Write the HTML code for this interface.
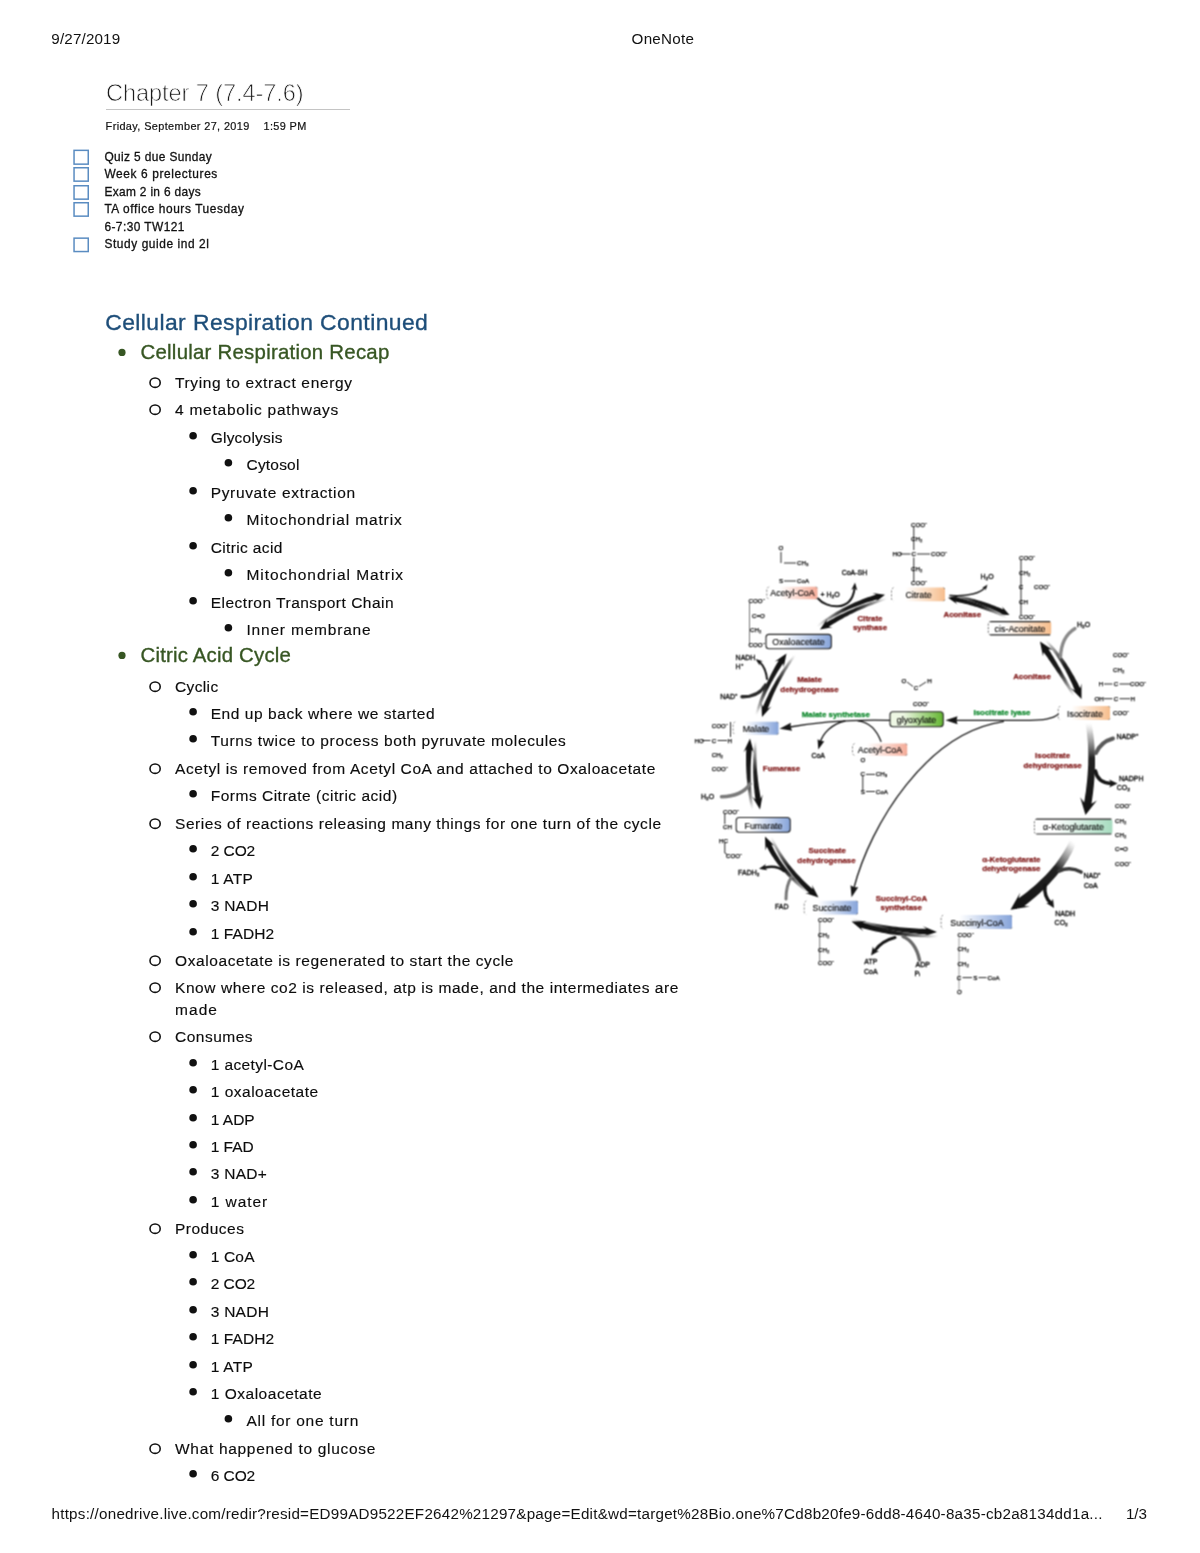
<!DOCTYPE html>
<html lang="en">
<head>
<meta charset="utf-8">
<title>OneNote</title>
<style>
html,body{margin:0;padding:0;background:#fff;}
body{width:1200px;height:1553px;position:relative;overflow:hidden;font-family:"Liberation Sans",sans-serif;color:#000;}
.t{position:absolute;white-space:nowrap;line-height:1;margin:0;opacity:0.999;}
.hd{font-size:15.2px;color:#111;}
.title{font-size:23.6px;left:106px;color:#1a1a1a;-webkit-text-stroke:0.75px #fff;}
.rule{position:absolute;left:106px;top:108.5px;width:244px;height:1px;background:#c4c4c4;}
.date{font-size:10.9px;left:105.6px;color:#111;-webkit-text-stroke:0.2px #111;}
.ck{font-size:11.9px;left:104.4px;color:#111;-webkit-text-stroke:0.3px #111;}
.h1{font-size:22.9px;left:105.2px;color:#1e4e79;-webkit-text-stroke:0.35px #1e4e79;}
.h2{font-size:20.4px;left:140.5px;color:#375623;-webkit-text-stroke:0.35px #375623;}
.b{font-size:15.5px;color:#0c0c0c;-webkit-text-stroke:0.15px #111;}
</style>
</head>
<body>
<div class="t hd" style="left:51.3px;top:31.1px;letter-spacing:0.16px;">9/27/2019</div>
<div class="t hd" style="left:631.6px;top:30.9px;letter-spacing:0.26px;">OneNote</div>
<div class="t title" style="top:81.5px;letter-spacing:-0.10px;">Chapter 7 (7.4-7.6)</div>
<div class="rule"></div>
<div class="t date" style="top:120.5px;letter-spacing:0.38px;">Friday, September 27, 2019</div><div class="t date" style="left:263.5px;top:120.5px;letter-spacing:0.38px;">1:59 PM</div>
<div class="t ck" style="top:151.6px;letter-spacing:0.38px;">Quiz 5 due Sunday</div>
<div class="t ck" style="top:168.6px;letter-spacing:0.63px;">Week 6 prelectures</div>
<div class="t ck" style="top:186.8px;letter-spacing:0.34px;">Exam 2 in 6 days</div>
<div class="t ck" style="top:203.8px;letter-spacing:0.59px;">TA office hours Tuesday</div>
<div class="t ck" style="top:221.8px;letter-spacing:0.45px;">6-7:30 TW121</div>
<div class="t ck" style="top:238.8px;letter-spacing:0.59px;">Study guide ind 2l</div>
<svg style="position:absolute;left:70px;top:145px" width="30" height="115" viewBox="0 0 30 115" fill="#fff" stroke="#5a8cc1" stroke-width="1.5"><rect x="4.05" y="5.35" width="14.2" height="13.8"/><rect x="4.05" y="22.75" width="14.2" height="13.4"/><rect x="4.05" y="40.75" width="14.2" height="13.4"/><rect x="4.05" y="57.75" width="14.2" height="13.4"/><rect x="4.05" y="93.15" width="14.2" height="13.4"/></svg>
<div class="t h1" style="top:311.1px;letter-spacing:0.42px;">Cellular Respiration Continued</div>
<div class="t h2" style="top:342.2px;letter-spacing:0.25px;">Cellular Respiration Recap</div>
<div class="t b" style="left:175.0px;top:374.9px;letter-spacing:0.64px;">Trying to extract energy</div>
<div class="t b" style="left:175.0px;top:401.9px;letter-spacing:0.75px;">4 metabolic pathways</div>
<div class="t b" style="left:210.7px;top:429.9px;letter-spacing:0.22px;">Glycolysis</div>
<div class="t b" style="left:246.5px;top:456.9px;letter-spacing:0.19px;">Cytosol</div>
<div class="t b" style="left:210.7px;top:484.9px;letter-spacing:0.65px;">Pyruvate extraction</div>
<div class="t b" style="left:246.5px;top:511.9px;letter-spacing:0.87px;">Mitochondrial matrix</div>
<div class="t b" style="left:210.7px;top:539.9px;letter-spacing:0.36px;">Citric acid</div>
<div class="t b" style="left:246.5px;top:566.9px;letter-spacing:0.94px;">Mitochondrial Matrix</div>
<div class="t b" style="left:210.7px;top:594.9px;letter-spacing:0.50px;">Electron Transport Chain</div>
<div class="t b" style="left:246.5px;top:621.9px;letter-spacing:0.80px;">Inner membrane</div>
<div class="t h2" style="top:645.2px;letter-spacing:0.19px;">Citric Acid Cycle</div>
<div class="t b" style="left:175.0px;top:678.9px;letter-spacing:0.36px;">Cyclic</div>
<div class="t b" style="left:210.7px;top:705.9px;letter-spacing:0.57px;">End up back where we started</div>
<div class="t b" style="left:210.7px;top:732.9px;letter-spacing:0.63px;">Turns twice to process both pyruvate molecules</div>
<div class="t b" style="left:175.0px;top:760.9px;letter-spacing:0.60px;">Acetyl is removed from Acetyl CoA and attached to Oxaloacetate</div>
<div class="t b" style="left:210.7px;top:787.9px;letter-spacing:0.51px;">Forms Citrate (citric acid)</div>
<div class="t b" style="left:175.0px;top:815.9px;letter-spacing:0.55px;">Series of reactions releasing many things for one turn of the cycle</div>
<div class="t b" style="left:210.7px;top:842.9px;letter-spacing:-0.06px;">2 CO2</div>
<div class="t b" style="left:210.7px;top:870.9px;letter-spacing:0.28px;">1 ATP</div>
<div class="t b" style="left:210.7px;top:897.9px;letter-spacing:0.27px;">3 NADH</div>
<div class="t b" style="left:210.7px;top:925.9px;letter-spacing:0.09px;">1 FADH2</div>
<div class="t b" style="left:175.0px;top:952.9px;letter-spacing:0.59px;">Oxaloacetate is regenerated to start the cycle</div>
<div class="t b" style="left:175.0px;top:979.9px;letter-spacing:0.56px;">Know where co2 is released, atp is made, and the intermediates are</div>
<div class="t b" style="left:175.0px;top:1001.9px;letter-spacing:1.05px;">made</div>
<div class="t b" style="left:175.0px;top:1028.9px;letter-spacing:0.49px;">Consumes</div>
<div class="t b" style="left:210.7px;top:1056.9px;letter-spacing:0.40px;">1 acetyl-CoA</div>
<div class="t b" style="left:210.7px;top:1083.9px;letter-spacing:0.51px;">1 oxaloacetate</div>
<div class="t b" style="left:210.7px;top:1111.9px;letter-spacing:0.01px;">1 ADP</div>
<div class="t b" style="left:210.7px;top:1138.9px;letter-spacing:-0.02px;">1 FAD</div>
<div class="t b" style="left:210.7px;top:1165.9px;letter-spacing:0.30px;">3 NAD+</div>
<div class="t b" style="left:210.7px;top:1193.9px;letter-spacing:0.95px;">1 water</div>
<div class="t b" style="left:175.0px;top:1220.9px;letter-spacing:0.50px;">Produces</div>
<div class="t b" style="left:210.7px;top:1248.9px;letter-spacing:0.18px;">1 CoA</div>
<div class="t b" style="left:210.7px;top:1275.9px;letter-spacing:-0.06px;">2 CO2</div>
<div class="t b" style="left:210.7px;top:1303.9px;letter-spacing:0.27px;">3 NADH</div>
<div class="t b" style="left:210.7px;top:1330.9px;letter-spacing:0.09px;">1 FADH2</div>
<div class="t b" style="left:210.7px;top:1358.9px;letter-spacing:0.28px;">1 ATP</div>
<div class="t b" style="left:210.7px;top:1385.9px;letter-spacing:0.52px;">1 Oxaloacetate</div>
<div class="t b" style="left:246.5px;top:1412.9px;letter-spacing:0.73px;">All for one turn</div>
<div class="t b" style="left:175.0px;top:1440.9px;letter-spacing:0.69px;">What happened to glucose</div>
<div class="t b" style="left:210.7px;top:1467.9px;letter-spacing:-0.06px;">6 CO2</div>
<svg style="position:absolute;left:0;top:0" width="300" height="1500" viewBox="0 0 300 1500"><circle cx="122" cy="352.4" r="3.6" fill="#375623"/><ellipse cx="155.1" cy="382.7" rx="5.1" ry="4.7" fill="none" stroke="#111" stroke-width="1.6"/><ellipse cx="155.1" cy="409.7" rx="5.1" ry="4.7" fill="none" stroke="#111" stroke-width="1.6"/><circle cx="193.1" cy="435.8" r="3.8" fill="#111"/><circle cx="228.4" cy="462.8" r="3.8" fill="#111"/><circle cx="193.1" cy="490.8" r="3.8" fill="#111"/><circle cx="228.4" cy="517.8" r="3.8" fill="#111"/><circle cx="193.1" cy="545.8" r="3.8" fill="#111"/><circle cx="228.4" cy="572.8" r="3.8" fill="#111"/><circle cx="193.1" cy="600.8" r="3.8" fill="#111"/><circle cx="228.4" cy="627.8" r="3.8" fill="#111"/><circle cx="122" cy="655.4" r="3.6" fill="#375623"/><ellipse cx="155.1" cy="686.7" rx="5.1" ry="4.7" fill="none" stroke="#111" stroke-width="1.6"/><circle cx="193.1" cy="711.8" r="3.8" fill="#111"/><circle cx="193.1" cy="738.8" r="3.8" fill="#111"/><ellipse cx="155.1" cy="768.7" rx="5.1" ry="4.7" fill="none" stroke="#111" stroke-width="1.6"/><circle cx="193.1" cy="793.8" r="3.8" fill="#111"/><ellipse cx="155.1" cy="823.7" rx="5.1" ry="4.7" fill="none" stroke="#111" stroke-width="1.6"/><circle cx="193.1" cy="848.8" r="3.8" fill="#111"/><circle cx="193.1" cy="876.8" r="3.8" fill="#111"/><circle cx="193.1" cy="903.8" r="3.8" fill="#111"/><circle cx="193.1" cy="931.8" r="3.8" fill="#111"/><ellipse cx="155.1" cy="960.7" rx="5.1" ry="4.7" fill="none" stroke="#111" stroke-width="1.6"/><ellipse cx="155.1" cy="987.7" rx="5.1" ry="4.7" fill="none" stroke="#111" stroke-width="1.6"/><ellipse cx="155.1" cy="1036.7" rx="5.1" ry="4.7" fill="none" stroke="#111" stroke-width="1.6"/><circle cx="193.1" cy="1062.8" r="3.8" fill="#111"/><circle cx="193.1" cy="1089.8" r="3.8" fill="#111"/><circle cx="193.1" cy="1117.8" r="3.8" fill="#111"/><circle cx="193.1" cy="1144.8" r="3.8" fill="#111"/><circle cx="193.1" cy="1171.8" r="3.8" fill="#111"/><circle cx="193.1" cy="1199.8" r="3.8" fill="#111"/><ellipse cx="155.1" cy="1228.7" rx="5.1" ry="4.7" fill="none" stroke="#111" stroke-width="1.6"/><circle cx="193.1" cy="1254.8" r="3.8" fill="#111"/><circle cx="193.1" cy="1281.8" r="3.8" fill="#111"/><circle cx="193.1" cy="1309.8" r="3.8" fill="#111"/><circle cx="193.1" cy="1336.8" r="3.8" fill="#111"/><circle cx="193.1" cy="1364.8" r="3.8" fill="#111"/><circle cx="193.1" cy="1391.8" r="3.8" fill="#111"/><circle cx="228.4" cy="1418.8" r="3.8" fill="#111"/><ellipse cx="155.1" cy="1448.7" rx="5.1" ry="4.7" fill="none" stroke="#111" stroke-width="1.6"/><circle cx="193.1" cy="1473.8" r="3.8" fill="#111"/></svg>
<svg style="position:absolute;left:686px;top:505px" width="474" height="510" viewBox="686 505 474 510">
<defs>
<filter id="bl" filterUnits="userSpaceOnUse" x="686" y="505" width="474" height="510" color-interpolation-filters="sRGB"><feConvolveMatrix order="3" kernelMatrix="1 2 1 2 4 2 1 2 1" divisor="16" edgeMode="duplicate" preserveAlpha="false"/></filter>
<linearGradient id="g1" gradientUnits="userSpaceOnUse" x1="817.0" y1="626.5" x2="885.0" y2="594.8"><stop offset="0" stop-color="#cccccc" stop-opacity="0.0"/><stop offset="0.12" stop-color="#aaaaaa" stop-opacity="0.9"/><stop offset="0.3" stop-color="#5a5a5a" stop-opacity="1"/><stop offset="0.45" stop-color="#1c1c1c" stop-opacity="1"/><stop offset="1" stop-color="#0d0d0d" stop-opacity="1"/></linearGradient>
<linearGradient id="g2" gradientUnits="userSpaceOnUse" x1="887.0" y1="598.6" x2="820.0" y2="629.5"><stop offset="0" stop-color="#cccccc" stop-opacity="0.0"/><stop offset="0.12" stop-color="#aaaaaa" stop-opacity="0.9"/><stop offset="0.3" stop-color="#5a5a5a" stop-opacity="1"/><stop offset="0.45" stop-color="#1c1c1c" stop-opacity="1"/><stop offset="1" stop-color="#0d0d0d" stop-opacity="1"/></linearGradient>
<linearGradient id="g3" gradientUnits="userSpaceOnUse" x1="948.0" y1="594.8" x2="1009.5" y2="615.0"><stop offset="0" stop-color="#cccccc" stop-opacity="0.0"/><stop offset="0.12" stop-color="#aaaaaa" stop-opacity="0.9"/><stop offset="0.3" stop-color="#5a5a5a" stop-opacity="1"/><stop offset="0.45" stop-color="#1c1c1c" stop-opacity="1"/><stop offset="1" stop-color="#0d0d0d" stop-opacity="1"/></linearGradient>
<linearGradient id="g4" gradientUnits="userSpaceOnUse" x1="1007.0" y1="617.5" x2="948.0" y2="597.8"><stop offset="0" stop-color="#cccccc" stop-opacity="0.0"/><stop offset="0.12" stop-color="#aaaaaa" stop-opacity="0.9"/><stop offset="0.3" stop-color="#5a5a5a" stop-opacity="1"/><stop offset="0.45" stop-color="#1c1c1c" stop-opacity="1"/><stop offset="1" stop-color="#0d0d0d" stop-opacity="1"/></linearGradient>
<linearGradient id="g5" gradientUnits="userSpaceOnUse" x1="1074.0" y1="696.0" x2="1040.0" y2="641.5"><stop offset="0" stop-color="#cccccc" stop-opacity="0.0"/><stop offset="0.12" stop-color="#aaaaaa" stop-opacity="0.9"/><stop offset="0.3" stop-color="#5a5a5a" stop-opacity="1"/><stop offset="0.45" stop-color="#1c1c1c" stop-opacity="1"/><stop offset="1" stop-color="#0d0d0d" stop-opacity="1"/></linearGradient>
<linearGradient id="g6" gradientUnits="userSpaceOnUse" x1="1045.5" y1="640.0" x2="1081.5" y2="699.0"><stop offset="0" stop-color="#cccccc" stop-opacity="0.0"/><stop offset="0.12" stop-color="#aaaaaa" stop-opacity="0.9"/><stop offset="0.3" stop-color="#5a5a5a" stop-opacity="1"/><stop offset="0.45" stop-color="#1c1c1c" stop-opacity="1"/><stop offset="1" stop-color="#0d0d0d" stop-opacity="1"/></linearGradient>
<linearGradient id="g7" gradientUnits="userSpaceOnUse" x1="1088.5" y1="723.0" x2="1085.5" y2="815.0"><stop offset="0" stop-color="#cccccc" stop-opacity="0"/><stop offset="0.12" stop-color="#aaaaaa" stop-opacity="0.7"/><stop offset="0.38" stop-color="#222222" stop-opacity="1"/><stop offset="1" stop-color="#111111" stop-opacity="1"/></linearGradient>
<linearGradient id="g8" gradientUnits="userSpaceOnUse" x1="1073.0" y1="841.5" x2="1010.5" y2="909.8"><stop offset="0" stop-color="#cccccc" stop-opacity="0"/><stop offset="0.1" stop-color="#aaaaaa" stop-opacity="0.7"/><stop offset="0.33" stop-color="#222222" stop-opacity="1"/><stop offset="1" stop-color="#111111" stop-opacity="1"/></linearGradient>
<linearGradient id="g9" gradientUnits="userSpaceOnUse" x1="851.0" y1="919.0" x2="937.0" y2="932.0"><stop offset="0" stop-color="#cccccc" stop-opacity="0.0"/><stop offset="0.12" stop-color="#aaaaaa" stop-opacity="0.9"/><stop offset="0.3" stop-color="#5a5a5a" stop-opacity="1"/><stop offset="0.45" stop-color="#1c1c1c" stop-opacity="1"/><stop offset="1" stop-color="#0d0d0d" stop-opacity="1"/></linearGradient>
<linearGradient id="g10" gradientUnits="userSpaceOnUse" x1="938.5" y1="936.3" x2="851.5" y2="921.5"><stop offset="0" stop-color="#cccccc" stop-opacity="0.0"/><stop offset="0.12" stop-color="#aaaaaa" stop-opacity="0.9"/><stop offset="0.3" stop-color="#5a5a5a" stop-opacity="1"/><stop offset="0.45" stop-color="#1c1c1c" stop-opacity="1"/><stop offset="1" stop-color="#0d0d0d" stop-opacity="1"/></linearGradient>
<linearGradient id="g11" gradientUnits="userSpaceOnUse" x1="809.0" y1="893.0" x2="765.0" y2="836.5"><stop offset="0" stop-color="#cccccc" stop-opacity="0.0"/><stop offset="0.12" stop-color="#aaaaaa" stop-opacity="0.9"/><stop offset="0.3" stop-color="#5a5a5a" stop-opacity="1"/><stop offset="0.45" stop-color="#1c1c1c" stop-opacity="1"/><stop offset="1" stop-color="#0d0d0d" stop-opacity="1"/></linearGradient>
<linearGradient id="g12" gradientUnits="userSpaceOnUse" x1="771.0" y1="837.0" x2="818.5" y2="897.5"><stop offset="0" stop-color="#cccccc" stop-opacity="0.0"/><stop offset="0.12" stop-color="#aaaaaa" stop-opacity="0.9"/><stop offset="0.3" stop-color="#5a5a5a" stop-opacity="1"/><stop offset="0.45" stop-color="#1c1c1c" stop-opacity="1"/><stop offset="1" stop-color="#0d0d0d" stop-opacity="1"/></linearGradient>
<linearGradient id="g13" gradientUnits="userSpaceOnUse" x1="752.5" y1="810.0" x2="750.0" y2="738.5"><stop offset="0" stop-color="#cccccc" stop-opacity="0.0"/><stop offset="0.12" stop-color="#aaaaaa" stop-opacity="0.9"/><stop offset="0.3" stop-color="#5a5a5a" stop-opacity="1"/><stop offset="0.45" stop-color="#1c1c1c" stop-opacity="1"/><stop offset="1" stop-color="#0d0d0d" stop-opacity="1"/></linearGradient>
<linearGradient id="g14" gradientUnits="userSpaceOnUse" x1="755.5" y1="740.5" x2="760.0" y2="809.5"><stop offset="0" stop-color="#cccccc" stop-opacity="0.0"/><stop offset="0.12" stop-color="#aaaaaa" stop-opacity="0.9"/><stop offset="0.3" stop-color="#5a5a5a" stop-opacity="1"/><stop offset="0.45" stop-color="#1c1c1c" stop-opacity="1"/><stop offset="1" stop-color="#0d0d0d" stop-opacity="1"/></linearGradient>
<linearGradient id="g15" gradientUnits="userSpaceOnUse" x1="756.0" y1="715.5" x2="786.5" y2="653.5"><stop offset="0" stop-color="#cccccc" stop-opacity="0.0"/><stop offset="0.12" stop-color="#aaaaaa" stop-opacity="0.9"/><stop offset="0.3" stop-color="#5a5a5a" stop-opacity="1"/><stop offset="0.45" stop-color="#1c1c1c" stop-opacity="1"/><stop offset="1" stop-color="#0d0d0d" stop-opacity="1"/></linearGradient>
<linearGradient id="g16" gradientUnits="userSpaceOnUse" x1="795.0" y1="655.0" x2="762.0" y2="717.0"><stop offset="0" stop-color="#cccccc" stop-opacity="0.0"/><stop offset="0.12" stop-color="#aaaaaa" stop-opacity="0.9"/><stop offset="0.3" stop-color="#5a5a5a" stop-opacity="1"/><stop offset="0.45" stop-color="#1c1c1c" stop-opacity="1"/><stop offset="1" stop-color="#0d0d0d" stop-opacity="1"/></linearGradient>
<linearGradient id="b17" x1="0" x2="1" y1="0" y2="0"><stop offset="0" stop-color="#ffffff"/><stop offset="0.25" stop-color="#ffffff"/><stop offset="1" stop-color="#f4ab98"/></linearGradient>
<linearGradient id="b18" x1="0" x2="1" y1="0" y2="0"><stop offset="0" stop-color="#ffffff"/><stop offset="0.25" stop-color="#ffffff"/><stop offset="1" stop-color="#86a4da"/></linearGradient>
<linearGradient id="b19" x1="0" x2="1" y1="0" y2="0"><stop offset="0" stop-color="#ffffff"/><stop offset="0.25" stop-color="#ffffff"/><stop offset="1" stop-color="#f6bd8c"/></linearGradient>
<linearGradient id="b20" x1="0" x2="1" y1="0" y2="0"><stop offset="0" stop-color="#ffffff"/><stop offset="0.25" stop-color="#ffffff"/><stop offset="1" stop-color="#f6bd8c"/></linearGradient>
<linearGradient id="b21" x1="0" x2="1" y1="0" y2="0"><stop offset="0" stop-color="#ffffff"/><stop offset="0.25" stop-color="#ffffff"/><stop offset="1" stop-color="#f6bd8c"/></linearGradient>
<linearGradient id="b22" x1="0" x2="1" y1="0" y2="0"><stop offset="0" stop-color="#ffffff"/><stop offset="0.25" stop-color="#ffffff"/><stop offset="1" stop-color="#a6dbbf"/></linearGradient>
<linearGradient id="b23" x1="0" x2="1" y1="0" y2="0"><stop offset="0" stop-color="#ffffff"/><stop offset="0.25" stop-color="#ffffff"/><stop offset="1" stop-color="#86a4da"/></linearGradient>
<linearGradient id="b24" x1="0" x2="1" y1="0" y2="0"><stop offset="0" stop-color="#ffffff"/><stop offset="0.25" stop-color="#ffffff"/><stop offset="1" stop-color="#86a4da"/></linearGradient>
<linearGradient id="b25" x1="0" x2="1" y1="0" y2="0"><stop offset="0" stop-color="#ffffff"/><stop offset="0.25" stop-color="#ffffff"/><stop offset="1" stop-color="#86a4da"/></linearGradient>
<linearGradient id="b26" x1="0" x2="1" y1="0" y2="0"><stop offset="0" stop-color="#ffffff"/><stop offset="0.25" stop-color="#ffffff"/><stop offset="1" stop-color="#86a4da"/></linearGradient>
<linearGradient id="b27" x1="0" x2="1" y1="0" y2="0"><stop offset="0" stop-color="#eef7e4"/><stop offset="0.25" stop-color="#eef7e4"/><stop offset="1" stop-color="#62b530"/></linearGradient>
<linearGradient id="b28" x1="0" x2="1" y1="0" y2="0"><stop offset="0" stop-color="#ffffff"/><stop offset="0.25" stop-color="#ffffff"/><stop offset="1" stop-color="#f4ab98"/></linearGradient>
</defs>
<style>
text{font-family:"Liberation Sans",sans-serif;}
.cp{font-size:8.9px;fill:#000;stroke:#000;stroke-width:.12px;}
.en{font-size:7.9px;font-weight:bold;fill:#7c1212;stroke:#7c1212;stroke-width:.25px;}
.eg{font-size:7.9px;font-weight:bold;fill:#078426;stroke:#078426;stroke-width:.25px;}
.cf{font-size:7px;fill:#000;stroke:#000;stroke-width:.3px;}
.st{font-size:6.2px;fill:#000;stroke:#000;stroke-width:.25px;}
</style>
<g filter="url(#bl)">
<polygon fill="url(#g1)" points="817.7,627.4 819.9,625.8 822.2,624.2 824.5,622.7 826.8,621.2 829.1,619.8 831.5,618.4 833.9,617.0 836.3,615.7 838.7,614.4 841.1,613.1 843.6,611.9 846.1,610.7 848.6,609.6 851.1,608.5 853.6,607.4 856.2,606.4 858.8,605.4 861.4,604.4 864.0,603.5 866.7,602.6 869.3,601.7 872.0,600.9 874.7,600.1 877.4,599.4 875.0,602.6 885.0,594.8 872.4,593.0 876.0,594.6 873.3,595.5 870.6,596.4 867.8,597.3 865.1,598.3 862.5,599.3 859.8,600.4 857.2,601.5 854.6,602.6 852.1,603.8 849.5,605.0 847.0,606.2 844.5,607.5 842.0,608.8 839.6,610.2 837.1,611.5 834.7,613.0 832.3,614.4 830.0,615.9 827.7,617.4 825.3,619.0 823.1,620.6 820.8,622.2 818.6,623.9 816.3,625.6"/>
<polygon fill="url(#g2)" points="886.7,597.5 884.0,598.2 881.4,598.9 878.8,599.7 876.1,600.5 873.5,601.3 870.9,602.1 868.3,603.0 865.8,603.9 863.2,604.8 860.6,605.8 858.1,606.8 855.6,607.8 853.1,608.9 850.5,610.0 848.1,611.1 845.6,612.2 843.1,613.4 840.7,614.6 838.2,615.8 835.8,617.1 833.4,618.4 831.0,619.7 828.6,621.1 826.2,622.5 827.1,618.9 820.0,629.5 832.5,627.3 828.8,626.7 831.1,625.3 833.4,623.8 835.7,622.4 838.0,621.1 840.3,619.7 842.7,618.4 845.0,617.1 847.4,615.9 849.8,614.6 852.2,613.4 854.6,612.3 857.0,611.1 859.5,610.0 861.9,608.9 864.4,607.9 866.9,606.8 869.4,605.8 871.9,604.9 874.4,603.9 877.0,603.0 879.5,602.1 882.1,601.3 884.7,600.5 887.3,599.7"/>
<path d="M818 598.5 C826 608,851 613,854.5 589" fill="none" stroke="#151515" stroke-width="2.0" stroke-linecap="round" opacity="1"/>
<polygon fill="#151515" points="855.0,582.5 857.3,590.5 854.5,588.0 851.3,590.0"/>
<polygon fill="url(#g3)" points="947.8,595.9 950.1,596.3 952.5,596.8 954.8,597.3 957.1,597.8 959.4,598.3 961.6,598.9 963.9,599.5 966.2,600.1 968.5,600.8 970.7,601.4 973.0,602.1 975.2,602.9 977.4,603.6 979.6,604.4 981.9,605.2 984.1,606.0 986.3,606.9 988.5,607.7 990.6,608.6 992.8,609.6 995.0,610.5 997.2,611.5 999.3,612.5 1001.5,613.5 998.2,614.4 1009.5,615.0 1002.1,606.5 1003.3,609.5 1001.1,608.6 998.8,607.6 996.6,606.7 994.4,605.8 992.1,605.0 989.8,604.1 987.6,603.3 985.3,602.5 983.0,601.8 980.7,601.1 978.5,600.4 976.2,599.7 973.9,599.1 971.6,598.4 969.2,597.8 966.9,597.3 964.6,596.7 962.3,596.2 959.9,595.7 957.6,595.3 955.2,594.8 952.9,594.4 950.5,594.1 948.2,593.7"/>
<polygon fill="url(#g4)" points="1007.5,616.5 1005.4,615.5 1003.3,614.4 1001.2,613.4 999.1,612.4 997.0,611.5 994.9,610.5 992.8,609.6 990.6,608.7 988.5,607.8 986.4,607.0 984.3,606.1 982.1,605.3 980.0,604.5 977.9,603.8 975.7,603.0 973.6,602.3 971.4,601.6 969.3,600.9 967.1,600.3 964.9,599.6 962.8,599.0 960.6,598.4 958.4,597.8 956.3,597.3 959.1,595.6 948.0,597.8 957.3,604.2 955.3,601.6 957.4,602.0 959.6,602.5 961.8,603.0 963.9,603.5 966.0,604.1 968.2,604.6 970.3,605.2 972.5,605.8 974.6,606.4 976.8,607.1 978.9,607.8 981.0,608.4 983.2,609.2 985.3,609.9 987.4,610.7 989.6,611.4 991.7,612.2 993.8,613.1 995.9,613.9 998.1,614.8 1000.2,615.7 1002.3,616.6 1004.4,617.5 1006.5,618.5"/>
<path d="M950 595.5 C968 597,981 593,985.5 587" fill="none" stroke="#222" stroke-width="1.5" stroke-linecap="round" opacity="1"/>
<polygon fill="#151515" points="987.5,584.5 985.7,590.6 985.0,587.9 982.1,587.9"/>
<polygon fill="url(#g5)" points="1075.0,695.5 1073.9,693.5 1072.9,691.5 1071.8,689.5 1070.7,687.6 1069.7,685.6 1068.6,683.7 1067.5,681.7 1066.5,679.7 1065.4,677.8 1064.3,675.9 1063.2,673.9 1062.1,672.0 1061.0,670.0 1059.9,668.1 1058.7,666.2 1057.6,664.2 1056.5,662.3 1055.4,660.4 1054.2,658.5 1053.1,656.6 1051.9,654.7 1050.8,652.8 1049.6,650.9 1048.5,649.0 1052.8,650.1 1040.0,641.5 1043.0,656.6 1043.6,652.2 1044.9,654.0 1046.2,655.8 1047.5,657.6 1048.7,659.4 1050.0,661.2 1051.2,663.0 1052.5,664.9 1053.7,666.7 1055.0,668.5 1056.2,670.4 1057.4,672.2 1058.7,674.1 1059.9,675.9 1061.1,677.8 1062.3,679.6 1063.5,681.5 1064.7,683.4 1065.9,685.2 1067.1,687.1 1068.3,689.0 1069.5,690.9 1070.7,692.8 1071.9,694.7 1073.0,696.5"/>
<polygon fill="url(#g6)" points="1044.7,640.8 1046.2,642.5 1047.7,644.3 1049.2,646.1 1050.7,648.0 1052.1,649.9 1053.5,651.8 1054.9,653.7 1056.3,655.7 1057.6,657.7 1058.9,659.7 1060.2,661.7 1061.5,663.8 1062.8,665.9 1064.0,668.0 1065.2,670.1 1066.3,672.3 1067.5,674.5 1068.6,676.7 1069.7,678.9 1070.8,681.2 1071.9,683.5 1072.9,685.8 1073.9,688.2 1074.9,690.6 1070.6,688.1 1081.5,699.0 1081.5,683.6 1080.2,688.2 1079.0,685.9 1077.9,683.5 1076.7,681.2 1075.4,678.9 1074.2,676.6 1072.9,674.4 1071.6,672.2 1070.3,670.0 1069.0,667.8 1067.6,665.7 1066.3,663.6 1064.9,661.6 1063.4,659.6 1062.0,657.6 1060.5,655.6 1059.0,653.7 1057.5,651.8 1056.0,649.9 1054.4,648.0 1052.8,646.2 1051.2,644.4 1049.6,642.7 1048.0,640.9 1046.3,639.2"/>
<path d="M1075 628.5 C1066 634,1061 644,1060.5 657" fill="none" stroke="#8a8a8a" stroke-width="3.3" stroke-linecap="round" opacity="1"/>
<polygon fill="url(#g7)" points="1085.5,723.5 1086.0,726.6 1086.5,729.6 1086.9,732.7 1087.2,735.8 1087.5,739.0 1087.8,742.1 1088.0,745.3 1088.1,748.5 1088.2,751.7 1088.3,754.9 1088.3,758.2 1088.2,761.5 1088.2,764.8 1088.0,768.1 1087.8,771.4 1087.6,774.8 1087.3,778.2 1087.0,781.6 1086.6,785.0 1086.2,788.5 1085.8,791.9 1085.2,795.4 1084.7,799.0 1084.1,802.5 1080.2,797.2 1085.5,815.0 1096.9,800.4 1091.5,803.7 1092.0,800.1 1092.5,796.5 1093.0,792.9 1093.4,789.3 1093.8,785.8 1094.1,782.3 1094.4,778.7 1094.6,775.3 1094.8,771.8 1094.9,768.4 1095.0,764.9 1095.0,761.5 1095.0,758.2 1094.9,754.8 1094.8,751.5 1094.6,748.2 1094.4,744.9 1094.1,741.6 1093.8,738.4 1093.4,735.1 1093.0,731.9 1092.5,728.8 1092.0,725.6 1091.5,722.5"/>
<path d="M1113 738.5 C1104 741,1099 746,1096 753" fill="none" stroke="#5a5a5a" stroke-width="3.9" stroke-linecap="round" opacity="1"/>
<path d="M1095.5 771 C1097 780,1104 783,1111 783.5" fill="none" stroke="#151515" stroke-width="3.5" stroke-linecap="round" opacity="1"/>
<polygon fill="#151515" points="1117.5,783.5 1109.1,787.5 1111.5,783.5 1109.1,779.5"/>
<polygon fill="url(#g8)" points="1069.8,840.2 1068.6,842.7 1067.4,845.3 1066.1,847.8 1064.7,850.3 1063.2,852.8 1061.6,855.3 1059.9,857.8 1058.2,860.3 1056.4,862.7 1054.5,865.2 1052.5,867.6 1050.4,870.0 1048.2,872.5 1045.9,874.9 1043.6,877.2 1041.2,879.6 1038.6,882.0 1036.0,884.4 1033.4,886.7 1030.6,889.0 1027.7,891.4 1024.8,893.7 1021.7,896.0 1018.6,898.3 1020.1,892.7 1010.5,909.8 1029.9,906.6 1024.3,905.9 1027.4,903.4 1030.5,901.0 1033.5,898.5 1036.5,896.0 1039.3,893.4 1042.0,890.9 1044.7,888.4 1047.3,885.8 1049.7,883.2 1052.1,880.6 1054.4,878.0 1056.6,875.4 1058.8,872.7 1060.8,870.1 1062.8,867.4 1064.6,864.8 1066.4,862.1 1068.1,859.4 1069.6,856.6 1071.1,853.9 1072.6,851.2 1073.9,848.4 1075.1,845.6 1076.2,842.8"/>
<path d="M1081 872 C1074 868,1066 868,1059 871" fill="none" stroke="#3a3a3a" stroke-width="3.7" stroke-linecap="round" opacity="1"/>
<path d="M1045 885 C1044 895,1047 900,1051 903" fill="none" stroke="#151515" stroke-width="3.5" stroke-linecap="round" opacity="1"/>
<polygon fill="#151515" points="1054.0,908.0 1046.2,902.9 1050.9,902.9 1053.0,898.7"/>
<polygon fill="url(#g9)" points="850.7,920.0 853.4,921.0 856.2,921.9 859.0,922.8 861.9,923.6 864.8,924.5 867.7,925.3 870.7,926.0 873.7,926.8 876.7,927.5 879.8,928.1 882.9,928.8 886.0,929.4 889.2,930.0 892.4,930.5 895.6,931.1 898.9,931.6 902.2,932.0 905.5,932.4 908.9,932.8 912.3,933.2 915.7,933.6 919.2,933.9 922.7,934.1 926.2,934.4 922.6,936.8 937.0,932.0 922.9,926.2 926.5,928.9 923.0,928.8 919.5,928.7 916.1,928.5 912.7,928.3 909.3,928.1 906.0,927.8 902.7,927.5 899.4,927.2 896.2,926.8 892.9,926.5 889.8,926.0 886.6,925.6 883.5,925.1 880.4,924.6 877.4,924.1 874.4,923.5 871.4,922.9 868.4,922.3 865.5,921.7 862.6,921.0 859.7,920.3 856.9,919.5 854.1,918.8 851.3,918.0"/>
<polygon fill="url(#g10)" points="938.5,935.2 935.0,935.1 931.6,934.9 928.1,934.8 924.7,934.5 921.3,934.3 918.0,934.0 914.7,933.7 911.4,933.3 908.1,932.9 904.9,932.4 901.7,932.0 898.5,931.4 895.3,930.9 892.2,930.3 889.1,929.7 886.0,929.0 883.0,928.3 880.0,927.6 877.0,926.8 874.0,926.0 871.1,925.2 868.2,924.3 865.4,923.4 862.5,922.4 866.7,921.2 851.5,921.5 863.3,931.2 860.8,927.7 863.8,928.5 866.8,929.3 869.8,930.1 872.8,930.8 875.9,931.5 878.9,932.1 882.0,932.8 885.2,933.3 888.3,933.9 891.5,934.4 894.7,934.8 897.9,935.3 901.2,935.6 904.4,936.0 907.7,936.3 911.1,936.6 914.4,936.8 917.8,937.0 921.2,937.2 924.6,937.3 928.0,937.4 931.5,937.4 935.0,937.4 938.5,937.4"/>
<path d="M919.5 960 C917 948,911 940,903 936.5" fill="none" stroke="#6a6a6a" stroke-width="3.4" stroke-linecap="round" opacity="1"/>
<path d="M895 937.5 C885 940,878 946,874.5 951" fill="none" stroke="#151515" stroke-width="3.0" stroke-linecap="round" opacity="1"/>
<polygon fill="#151515" points="871.0,955.5 872.9,946.5 874.5,950.7 879.0,950.9"/>
<polygon fill="url(#g11)" points="809.7,892.1 807.5,890.4 805.4,888.6 803.4,886.8 801.4,884.9 799.4,883.1 797.5,881.2 795.7,879.3 793.9,877.4 792.1,875.5 790.4,873.5 788.7,871.6 787.1,869.6 785.5,867.6 784.0,865.6 782.5,863.5 781.1,861.5 779.7,859.4 778.4,857.3 777.1,855.2 775.8,853.0 774.6,850.9 773.5,848.7 772.4,846.5 771.3,844.3 775.1,846.2 765.0,836.5 765.5,850.5 766.7,846.6 767.9,848.8 769.1,851.1 770.4,853.3 771.8,855.4 773.2,857.6 774.6,859.7 776.1,861.8 777.7,863.9 779.2,866.0 780.9,868.0 782.5,870.0 784.3,872.0 786.0,873.9 787.8,875.9 789.7,877.8 791.6,879.7 793.5,881.5 795.5,883.4 797.5,885.2 799.6,887.0 801.7,888.7 803.9,890.5 806.1,892.2 808.3,893.9"/>
<polygon fill="url(#g12)" points="770.0,837.4 771.1,840.0 772.2,842.5 773.4,845.0 774.6,847.4 775.9,849.9 777.2,852.3 778.5,854.8 780.0,857.2 781.4,859.5 782.9,861.9 784.5,864.2 786.1,866.6 787.8,868.9 789.5,871.2 791.2,873.4 793.0,875.7 794.9,877.9 796.8,880.1 798.7,882.3 800.7,884.5 802.8,886.6 804.9,888.8 807.0,890.9 809.2,893.0 805.2,893.1 818.5,897.5 812.1,885.0 812.7,889.1 810.5,887.2 808.3,885.2 806.2,883.2 804.1,881.2 802.1,879.2 800.1,877.1 798.1,875.0 796.2,872.9 794.4,870.8 792.6,868.7 790.8,866.5 789.1,864.4 787.4,862.2 785.8,859.9 784.2,857.7 782.7,855.4 781.2,853.2 779.7,850.9 778.3,848.5 777.0,846.2 775.7,843.8 774.4,841.4 773.2,839.0 772.0,836.6"/>
<path d="M786 899 C786 890,787.5 883,791.5 877" fill="none" stroke="#777" stroke-width="3.0" stroke-linecap="round" opacity="1"/>
<path d="M784 871 C778 866,772 866,765 867.5" fill="none" stroke="#151515" stroke-width="2.6" stroke-linecap="round" opacity="1"/>
<polygon fill="#151515" points="759.0,868.8 765.9,864.0 764.4,867.6 767.3,870.3"/>
<polygon fill="url(#g13)" points="753.6,809.8 753.2,807.3 752.9,804.8 752.5,802.3 752.2,799.9 752.0,797.4 751.7,794.9 751.5,792.4 751.3,789.9 751.1,787.4 751.0,784.9 750.9,782.4 750.8,779.9 750.7,777.4 750.7,774.8 750.7,772.3 750.7,769.8 750.7,767.3 750.8,764.8 750.9,762.3 751.0,759.7 751.2,757.2 751.4,754.7 751.6,752.1 751.8,749.6 754.0,753.2 750.0,738.5 743.5,752.3 746.3,749.2 746.2,751.8 746.1,754.4 746.1,757.0 746.1,759.6 746.1,762.2 746.1,764.8 746.2,767.3 746.3,769.9 746.4,772.4 746.6,775.0 746.7,777.5 746.9,780.1 747.2,782.6 747.4,785.2 747.7,787.7 748.0,790.2 748.4,792.7 748.7,795.2 749.1,797.7 749.5,800.2 749.9,802.7 750.4,805.2 750.9,807.7 751.4,810.2"/>
<polygon fill="url(#g14)" points="754.4,740.4 754.2,742.9 754.0,745.3 753.8,747.8 753.6,750.2 753.5,752.7 753.4,755.1 753.3,757.6 753.2,760.1 753.2,762.5 753.1,765.0 753.1,767.4 753.2,769.9 753.2,772.4 753.3,774.8 753.4,777.3 753.5,779.8 753.7,782.3 753.8,784.7 754.0,787.2 754.3,789.7 754.5,792.2 754.8,794.6 755.1,797.1 755.4,799.6 752.2,796.4 760.0,809.5 762.7,794.5 760.8,798.7 760.4,796.3 760.0,793.9 759.6,791.5 759.2,789.1 758.8,786.7 758.5,784.2 758.2,781.8 757.9,779.4 757.7,777.0 757.4,774.6 757.2,772.2 757.0,769.7 756.8,767.3 756.7,764.9 756.6,762.5 756.5,760.0 756.4,757.6 756.4,755.2 756.4,752.8 756.4,750.3 756.4,747.9 756.4,745.5 756.5,743.0 756.6,740.6"/>
<path d="M721.5 796.8 C733 796.5,744 793,750 784" fill="none" stroke="#7a7a7a" stroke-width="3.5" stroke-linecap="round" opacity="1"/>
<polygon fill="url(#g15)" points="757.1,715.8 757.8,713.5 758.6,711.2 759.5,709.0 760.4,706.7 761.2,704.4 762.2,702.2 763.1,700.0 764.1,697.7 765.1,695.5 766.1,693.3 767.1,691.1 768.2,688.9 769.3,686.7 770.4,684.5 771.6,682.3 772.8,680.2 774.0,678.0 775.2,675.9 776.5,673.8 777.8,671.6 779.1,669.5 780.4,667.4 781.8,665.3 783.2,663.2 783.7,667.2 786.5,653.5 774.9,661.4 778.8,660.4 777.5,662.6 776.2,664.8 774.9,667.1 773.7,669.3 772.5,671.5 771.3,673.8 770.2,676.0 769.1,678.2 768.0,680.5 766.9,682.8 765.9,685.0 764.9,687.3 763.9,689.6 762.9,691.9 762.0,694.2 761.1,696.5 760.2,698.8 759.4,701.1 758.6,703.5 757.8,705.8 757.1,708.1 756.3,710.5 755.6,712.8 754.9,715.2"/>
<polygon fill="url(#g16)" points="794.1,654.3 792.5,656.4 790.9,658.5 789.3,660.5 787.8,662.6 786.3,664.7 784.8,666.8 783.4,669.0 781.9,671.1 780.5,673.3 779.2,675.4 777.8,677.6 776.5,679.8 775.2,682.0 774.0,684.2 772.7,686.4 771.5,688.6 770.3,690.9 769.2,693.1 768.1,695.4 767.0,697.7 765.9,700.0 764.9,702.3 763.9,704.6 762.9,706.9 761.4,703.0 762.0,717.0 771.4,706.6 767.7,708.8 768.6,706.5 769.4,704.2 770.3,701.9 771.3,699.6 772.2,697.3 773.2,695.0 774.2,692.8 775.3,690.5 776.3,688.3 777.4,686.0 778.6,683.8 779.7,681.6 780.9,679.4 782.1,677.2 783.4,675.0 784.6,672.8 785.9,670.6 787.3,668.5 788.6,666.3 790.0,664.2 791.4,662.0 792.9,659.9 794.4,657.8 795.9,655.7"/>
<path d="M742 696.8 C753 697,761 693,765.5 685" fill="none" stroke="#2a2a2a" stroke-width="3.4" stroke-linecap="round" opacity="1"/>
<path d="M767 679 C766 670,763 665,759.5 662" fill="none" stroke="#151515" stroke-width="2.0" stroke-linecap="round" opacity="1"/>
<polygon fill="#151515" points="755.5,659.0 762.9,661.2 759.6,662.1 759.6,665.5"/>
<path d="M1059 713.8 C1052 719.5,1042 720.2,1030 720.3 L953 720.3" fill="none" stroke="#151515" stroke-width="1.3" stroke-linecap="round" opacity="1"/>
<polygon fill="#151515" points="945.5,720.3 957.5,716.3 956.5,720.3 957.5,724.3"/>
<path d="M1003.3 721.7 C927.2 732.7,870.6 823.2,853.6 889" fill="none" stroke="#151515" stroke-width="1.3" stroke-linecap="round" opacity="1"/>
<polygon fill="#151515" points="851.6,897.3 850.5,885.3 854.1,887.2 858.2,887.2"/>
<path d="M890 720.3 C860 719.5,820 721.5,787 727.5" fill="none" stroke="#151515" stroke-width="1.3" stroke-linecap="round" opacity="1"/>
<polygon fill="#151515" points="779.6,728.7 790.8,722.8 790.5,726.9 792.1,730.7"/>
<path d="M881 741.5 C876 728,868 722,858 720.8" fill="none" stroke="#151515" stroke-width="1.2" stroke-linecap="round" opacity="1"/>
<path d="M845 721 C832 724,823 733,820.2 742.5" fill="none" stroke="#151515" stroke-width="1.3" stroke-linecap="round" opacity="1"/>
<polygon fill="#151515" points="818.3,749.5 817.6,739.3 820.7,741.0 824.3,741.2"/>
<rect x="767.3" y="586.7" width="50.2" height="12.6" rx="2" fill="url(#b17)"/>
<path d="M768.8 586.7 l-2 2 V597.3 l2 2" stroke="#555" stroke-width="0.7" fill="none" stroke-dasharray="2.2 1.6"/>
<path d="M816.0 586.7 l1.5 1.5 M816.0 599.3 l1.5 -1.5" stroke="#555" stroke-width="0.7" fill="none"/>
<rect x="766.0" y="634.4" width="65.3" height="14.4" rx="3" fill="url(#b18)" stroke="#222" stroke-width="1.1"/>
<rect x="892.0" y="587.5" width="53.0" height="13.7" rx="2" fill="url(#b19)"/>
<path d="M893.5 587.5 l-2 2 V599.2 l2 2" stroke="#555" stroke-width="0.7" fill="none" stroke-dasharray="2.2 1.6"/>
<path d="M943.5 587.5 l1.5 1.5 M943.5 601.2 l1.5 -1.5" stroke="#555" stroke-width="0.7" fill="none"/>
<rect x="988.3" y="621.6" width="62.9" height="13.2" rx="2" fill="url(#b20)"/>
<path d="M990.3 621.6 H1050.2 M990.3 634.8 H1050.2" stroke="#222" stroke-width="1.2" fill="none"/>
<path d="M990.8 621.6 q-2.5 0 -2.5 2.5 V632.3 q0 2.5 2.5 2.5" stroke="#444" stroke-width="0.8" fill="none" stroke-dasharray="2 1.5"/>
<rect x="1058.7" y="706.0" width="51.3" height="14.0" rx="2" fill="url(#b21)"/>
<path d="M1060.2 706.0 l-2 2 V718.0 l2 2" stroke="#555" stroke-width="0.7" fill="none" stroke-dasharray="2.2 1.6"/>
<path d="M1108.5 706.0 l1.5 1.5 M1108.5 720.0 l1.5 -1.5" stroke="#555" stroke-width="0.7" fill="none"/>
<rect x="1034.4" y="819.2" width="78.0" height="14.8" rx="2" fill="url(#b22)"/>
<path d="M1036.4 819.2 H1111.4 M1036.4 834.0 H1111.4" stroke="#222" stroke-width="1.2" fill="none"/>
<path d="M1036.9 819.2 q-2.5 0 -2.5 2.5 V831.5 q0 2.5 2.5 2.5" stroke="#444" stroke-width="0.8" fill="none" stroke-dasharray="2 1.5"/>
<rect x="941.6" y="915.0" width="70.4" height="14.0" rx="2" fill="url(#b23)"/>
<path d="M943.1 915.0 l-2 2 V927.0 l2 2" stroke="#555" stroke-width="0.7" fill="none" stroke-dasharray="2.2 1.6"/>
<path d="M1010.5 915.0 l1.5 1.5 M1010.5 929.0 l1.5 -1.5" stroke="#555" stroke-width="0.7" fill="none"/>
<rect x="804.7" y="900.7" width="53.3" height="13.8" rx="2" fill="url(#b24)"/>
<path d="M806.2 900.7 l-2 2 V912.5 l2 2" stroke="#555" stroke-width="0.7" fill="none" stroke-dasharray="2.2 1.6"/>
<path d="M856.5 900.7 l1.5 1.5 M856.5 914.5 l1.5 -1.5" stroke="#555" stroke-width="0.7" fill="none"/>
<rect x="736.2" y="817.5" width="54.0" height="14.7" rx="3" fill="url(#b25)" stroke="#222" stroke-width="1.1"/>
<rect x="733.5" y="721.7" width="45.0" height="13.0" rx="2" fill="url(#b26)"/>
<path d="M735.0 721.7 l-2 2 V732.7 l2 2" stroke="#555" stroke-width="0.7" fill="none" stroke-dasharray="2.2 1.6"/>
<path d="M777.0 721.7 l1.5 1.5 M777.0 734.7 l1.5 -1.5" stroke="#555" stroke-width="0.7" fill="none"/>
<rect x="890.0" y="711.8" width="53.2" height="14.9" rx="3" fill="url(#b27)" stroke="#222" stroke-width="1.1"/>
<rect x="853.0" y="743.4" width="54.2" height="12.4" rx="2" fill="url(#b28)"/>
<path d="M854.5 743.4 l-2 2 V753.8 l2 2" stroke="#555" stroke-width="0.7" fill="none" stroke-dasharray="2.2 1.6"/>
<path d="M905.7 743.4 l1.5 1.5 M905.7 755.8 l1.5 -1.5" stroke="#555" stroke-width="0.7" fill="none"/>
<text x="792.5" y="596.3" class="cp" text-anchor="middle">Acetyl-CoA</text>
<text x="798.5" y="645.0" class="cp" text-anchor="middle">Oxaloacetate</text>
<text x="918.5" y="597.8" class="cp" text-anchor="middle">Citrate</text>
<text x="1020.0" y="631.6" class="cp" text-anchor="middle">cis-Aconitate</text>
<text x="1085.0" y="716.6" class="cp" text-anchor="middle">Isocitrate</text>
<text x="1073.5" y="830.2" class="cp" text-anchor="middle">α-Ketoglutarate</text>
<text x="977.0" y="925.5" class="cp" text-anchor="middle">Succinyl-CoA</text>
<text x="832.0" y="911.2" class="cp" text-anchor="middle">Succinate</text>
<text x="763.5" y="828.5" class="cp" text-anchor="middle">Fumarate</text>
<text x="756.0" y="731.8" class="cp" text-anchor="middle">Malate</text>
<text x="916.5" y="722.5" class="cp" text-anchor="middle">glyoxylate</text>
<text x="880.0" y="753.0" class="cp" text-anchor="middle">Acetyl-CoA</text>
<text x="870.0" y="620.5" class="en" text-anchor="middle">Citrate</text>
<text x="870.0" y="630.2" class="en" text-anchor="middle">synthase</text>
<text x="962.3" y="616.8" class="en" text-anchor="middle">Aconitase</text>
<text x="1032.0" y="679.0" class="en" text-anchor="middle">Aconitase</text>
<text x="809.5" y="682.0" class="en" text-anchor="middle">Malate</text>
<text x="809.5" y="691.8" class="en" text-anchor="middle">dehydrogenase</text>
<text x="781.5" y="771.0" class="en" text-anchor="middle">Fumarase</text>
<text x="827.2" y="853.2" class="en" text-anchor="middle">Succinate</text>
<text x="826.5" y="862.8" class="en" text-anchor="middle">dehydrogenase</text>
<text x="901.5" y="900.5" class="en" text-anchor="middle">Succinyl-CoA</text>
<text x="901.2" y="910.0" class="en" text-anchor="middle">synthetase</text>
<text x="1011.3" y="862.0" class="en" text-anchor="middle">α-Ketoglutarate</text>
<text x="1011.3" y="871.3" class="en" text-anchor="middle">dehydrogenase</text>
<text x="1052.6" y="758.0" class="en" text-anchor="middle">Isocitrate</text>
<text x="1052.6" y="767.8" class="en" text-anchor="middle">dehydrogenase</text>
<text x="835.8" y="717.0" class="eg" text-anchor="middle">Malate synthetase</text>
<text x="1002.0" y="715.4" class="eg" text-anchor="middle">Isocitrate lyase</text>
<text x="854.5" y="575.0" class="cf" text-anchor="middle">CoA-SH</text>
<text x="830.0" y="596.8" class="cf" text-anchor="middle">+ H₂O</text>
<text x="987.0" y="579.0" class="cf" text-anchor="middle">H₂O</text>
<text x="1083.5" y="627.0" class="cf" text-anchor="middle">H₂O</text>
<text x="1127.3" y="738.8" class="cf" text-anchor="middle">NADP⁺</text>
<text x="1131.3" y="781.0" class="cf" text-anchor="middle">NADPH</text>
<text x="1123.3" y="789.5" class="cf" text-anchor="middle">CO₂</text>
<text x="1091.8" y="878.0" class="cf" text-anchor="middle">NAD⁺</text>
<text x="1090.8" y="887.5" class="cf" text-anchor="middle">CoA</text>
<text x="1065.2" y="916.0" class="cf" text-anchor="middle">NADH</text>
<text x="1061.2" y="925.0" class="cf" text-anchor="middle">CO₂</text>
<text x="922.8" y="967.0" class="cf" text-anchor="middle">ADP</text>
<text x="917.3" y="976.0" class="cf" text-anchor="middle">Pᵢ</text>
<text x="870.8" y="964.3" class="cf" text-anchor="middle">ATP</text>
<text x="870.8" y="974.3" class="cf" text-anchor="middle">CoA</text>
<text x="781.8" y="908.5" class="cf" text-anchor="middle">FAD</text>
<text x="748.8" y="874.6" class="cf" text-anchor="middle">FADH₂</text>
<text x="707.5" y="799.3" class="cf" text-anchor="middle">H₂O</text>
<text x="728.6" y="698.6" class="cf" text-anchor="middle">NAD⁺</text>
<text x="745.5" y="660.2" class="cf" text-anchor="middle">NADH</text>
<text x="739.0" y="669.2" class="cf" text-anchor="middle">H⁺</text>
<text x="818.2" y="757.6" class="cf" text-anchor="middle">CoA</text>
<path d="M913.8 527 V582" stroke="#111" stroke-width="0.9" fill="none"/>
<path d="M900 554 H930" stroke="#111" stroke-width="0.9" fill="none"/>
<text x="911.0" y="527.0" class="st" text-anchor="start">COO⁻</text>
<text x="911.0" y="541.0" class="st" text-anchor="start">CH₂</text>
<text x="911.0" y="570.5" class="st" text-anchor="start">CH₂</text>
<text x="911.0" y="585.0" class="st" text-anchor="start">COO⁻</text>
<text x="892.5" y="556.0" class="st" text-anchor="start">HO</text>
<text x="931.0" y="556.0" class="st" text-anchor="start">COO⁻</text>
<rect x="910.5" y="550" width="6.5" height="7.5" fill="#fff"/>
<text x="913.8" y="556.0" class="st" text-anchor="middle">C</text>
<path d="M781 552 V563 M784 563 H796 M784 581 H796" stroke="#111" stroke-width="0.9" fill="none"/>
<text x="781.0" y="550.0" class="st" text-anchor="middle">O</text>
<text x="797.0" y="565.0" class="st" text-anchor="start">CH₃</text>
<text x="797.0" y="583.0" class="st" text-anchor="start">CoA</text>
<text x="781.0" y="583.0" class="st" text-anchor="middle">S</text>
<path d="M749.5 603 V645" stroke="#555" stroke-width="0.8" fill="none"/>
<text x="748.5" y="603.0" class="st" text-anchor="start">COO⁻</text>
<text x="752.0" y="618.0" class="st" text-anchor="start">C=O</text>
<text x="750.0" y="631.5" class="st" text-anchor="start">CH₂</text>
<text x="748.5" y="647.2" class="st" text-anchor="start">COO⁻</text>
<path d="M1021 560 V615" stroke="#111" stroke-width="0.9" fill="none"/>
<text x="1019.0" y="560.3" class="st" text-anchor="start">COO⁻</text>
<text x="1019.0" y="575.0" class="st" text-anchor="start">CH₂</text>
<text x="1021.0" y="589.0" class="st" text-anchor="middle">C</text>
<text x="1034.0" y="589.0" class="st" text-anchor="start">COO⁻</text>
<text x="1019.0" y="604.0" class="st" text-anchor="start">CH</text>
<text x="1019.0" y="618.5" class="st" text-anchor="start">COO⁻</text>
<text x="1113.0" y="657.0" class="st" text-anchor="start">COO⁻</text>
<text x="1113.0" y="671.6" class="st" text-anchor="start">CH₂</text>
<path d="M1104 684 H1112.5 M1119.5 684 H1130 M1104 698.7 H1112.5 M1119.5 698.7 H1130" stroke="#111" stroke-width="0.9" fill="none"/>
<text x="1101.0" y="686.0" class="st" text-anchor="middle">H</text>
<text x="1116.0" y="686.0" class="st" text-anchor="middle">C</text>
<text x="1130.0" y="686.0" class="st" text-anchor="start">COO⁻</text>
<text x="1094.5" y="700.8" class="st" text-anchor="start">OH</text>
<text x="1116.0" y="700.8" class="st" text-anchor="middle">C</text>
<text x="1132.7" y="700.8" class="st" text-anchor="middle">H</text>
<text x="1113.0" y="715.0" class="st" text-anchor="start">COO⁻</text>
<text x="1115.0" y="808.0" class="st" text-anchor="start">COO⁻</text>
<text x="1115.0" y="822.6" class="st" text-anchor="start">CH₂</text>
<text x="1115.0" y="837.0" class="st" text-anchor="start">CH₂</text>
<text x="1115.0" y="851.4" class="st" text-anchor="start">C=O</text>
<text x="1115.0" y="866.0" class="st" text-anchor="start">COO⁻</text>
<path d="M959 938 V990" stroke="#777" stroke-width="0.7" fill="none"/>
<text x="957.5" y="937.0" class="st" text-anchor="start">COO⁻</text>
<text x="957.5" y="951.4" class="st" text-anchor="start">CH₂</text>
<text x="957.5" y="966.0" class="st" text-anchor="start">CH₂</text>
<text x="959.0" y="979.6" class="st" text-anchor="middle">C</text>
<path d="M962.5 977.6 H972 M978.5 977.6 H986.5" stroke="#111" stroke-width="0.9" fill="none"/>
<text x="975.2" y="979.6" class="st" text-anchor="middle">S</text>
<text x="987.5" y="979.6" class="st" text-anchor="start">CoA</text>
<text x="957.0" y="994.4" class="st" text-anchor="start">O</text>
<path d="M819.7 922 V961" stroke="#555" stroke-width="0.8" fill="none"/>
<text x="818.0" y="921.5" class="st" text-anchor="start">COO⁻</text>
<text x="818.0" y="937.0" class="st" text-anchor="start">CH₂</text>
<text x="818.0" y="952.0" class="st" text-anchor="start">CH₂</text>
<text x="818.0" y="965.3" class="st" text-anchor="start">COO⁻</text>
<path d="M724.8 814 V824 M724.8 843 V853 l3 2" stroke="#111" stroke-width="0.9" fill="none"/>
<text x="723.0" y="813.8" class="st" text-anchor="start">COO⁻</text>
<text x="723.0" y="828.5" class="st" text-anchor="start">CH</text>
<text x="719.0" y="842.7" class="st" text-anchor="start">HC</text>
<text x="726.0" y="857.7" class="st" text-anchor="start">COO⁻</text>
<text x="711.7" y="728.2" class="st" text-anchor="start">COO⁻</text>
<path d="M702 740.5 H710.5 M717.5 740.5 H727 M730.5 722 V737" stroke="#111" stroke-width="0.9" fill="none"/>
<text x="694.5" y="742.5" class="st" text-anchor="start">HO</text>
<text x="714.0" y="742.5" class="st" text-anchor="middle">C</text>
<text x="729.7" y="742.5" class="st" text-anchor="middle">H</text>
<text x="711.7" y="757.0" class="st" text-anchor="start">CH₂</text>
<text x="711.7" y="771.3" class="st" text-anchor="start">COO⁻</text>
<path d="M907 682 L913 686.5 M919 686.5 L926 682" stroke="#111" stroke-width="0.9" fill="none"/>
<text x="904.0" y="682.6" class="st" text-anchor="middle">O</text>
<text x="916.0" y="690.2" class="st" text-anchor="middle">C</text>
<text x="929.4" y="682.6" class="st" text-anchor="middle">H</text>
<text x="913.0" y="706.4" class="st" text-anchor="start">COO⁻</text>
<path d="M862.8 776 V790 M866 774.4 H875 M866 791.5 H875" stroke="#111" stroke-width="0.9" fill="none"/>
<text x="862.8" y="762.0" class="st" text-anchor="middle">O</text>
<text x="862.8" y="776.4" class="st" text-anchor="middle">C</text>
<text x="875.8" y="776.4" class="st" text-anchor="start">CH₃</text>
<text x="862.8" y="793.5" class="st" text-anchor="middle">S</text>
<text x="875.8" y="793.5" class="st" text-anchor="start">CoA</text>
</g>
</svg>
<div class="t hd" style="left:51.5px;top:1506.1px;letter-spacing:0.24px;">https://onedrive.live.com/redir?resid=ED99AD9522EF2642%21297&amp;page=Edit&amp;wd=target%28Bio.one%7Cd8b20fe9-6dd8-4640-8a35-cb2a8134dd1a...</div>
<div class="t hd" style="left:1126px;top:1506.1px;letter-spacing:-0.14px;">1/3</div>
</body>
</html>
